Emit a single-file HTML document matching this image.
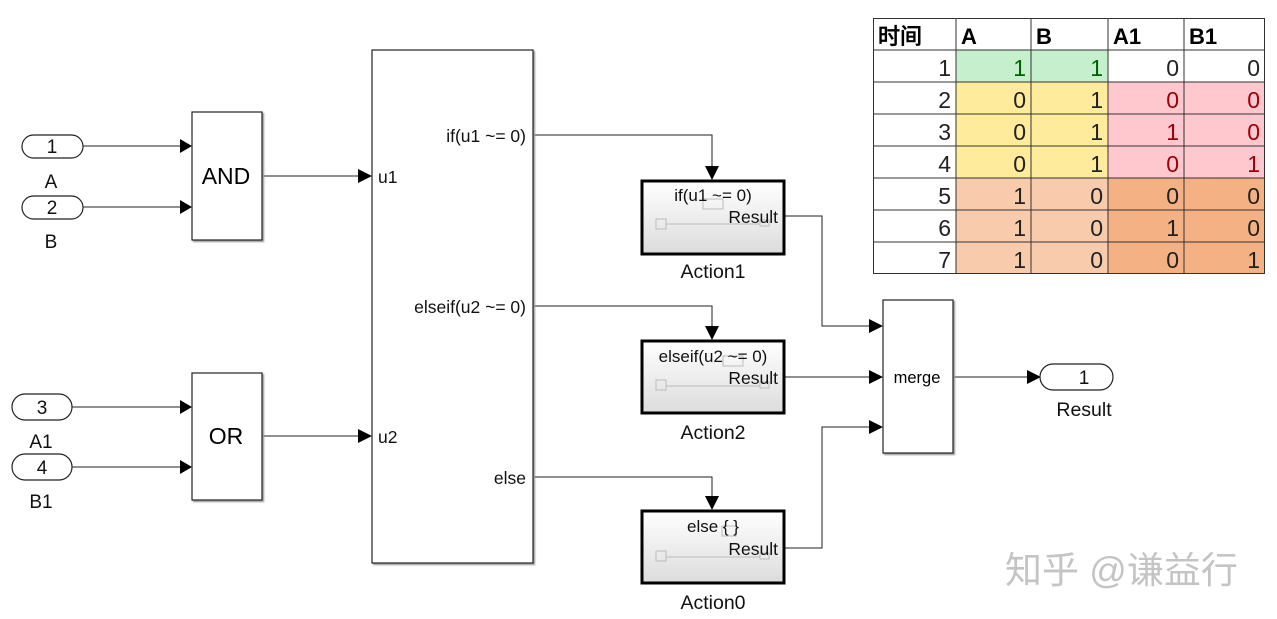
<!DOCTYPE html>
<html><head><meta charset="utf-8"><style>
html,body{margin:0;padding:0;background:#fff;}
svg{display:block;}
text{font-family:"Liberation Sans",Arial,sans-serif;}
.t{font-family:"Liberation Sans","Noto Sans CJK SC",sans-serif;}
</style></head><body>
<svg width="1277" height="619" viewBox="0 0 1277 619" xmlns="http://www.w3.org/2000/svg">
<defs>
<linearGradient id="g" x1="0" y1="0" x2="0" y2="1"><stop offset="0" stop-color="#ffffff"/><stop offset="1" stop-color="#dcdcdc"/></linearGradient>
<filter id="sh"><feDropShadow dx="1.5" dy="1.5" stdDeviation="0.8" flood-color="#999"/></filter>
</defs>
<g stroke="#222" stroke-width="1" fill="none">
<line x1="83" y1="146" x2="180" y2="146"/><line x1="83" y1="207" x2="180" y2="207"/>
<line x1="72" y1="407" x2="180" y2="407"/><line x1="72" y1="467" x2="180" y2="467"/>
<line x1="262" y1="176" x2="360" y2="176"/><line x1="262" y1="436" x2="360" y2="436"/>
<polyline points="533,135 712,135 712,168"/>
<polyline points="533,306 712,306 712,328"/>
<polyline points="533,477 712,477 712,498"/>
<polyline points="785,216 822,216 822,326 871,326"/>
<line x1="785" y1="377" x2="871" y2="377"/>
<polyline points="785,548 822,548 822,427 871,427"/>
<line x1="953" y1="377" x2="1028" y2="377"/>
</g>
<g fill="#000">
<polygon points="180,139 192,146 180,153"/><polygon points="180,200 192,207 180,214"/>
<polygon points="180,400 192,407 180,414"/><polygon points="180,460 192,467 180,474"/>
<polygon points="358,169 372,176 358,183"/><polygon points="358,429 372,436 358,443"/>
<polygon points="705,166 719,166 712,180"/><polygon points="705,326 719,326 712,340"/><polygon points="705,496 719,496 712,510"/>
<polygon points="869,319 883,326 869,333"/><polygon points="869,370 883,377 869,384"/><polygon points="869,420 883,427 869,434"/>
<polygon points="1027,370 1041,377 1027,384"/>
</g>
<g stroke="#222" stroke-width="1.2" fill="#fff">
<rect x="22" y="135" width="61" height="23" rx="11.5"/>
<rect x="22" y="196" width="61" height="23" rx="11.5"/>
<rect x="12" y="394" width="60" height="26" rx="13"/>
<rect x="12" y="454" width="60" height="26" rx="13"/>
<rect x="1040" y="364" width="73" height="26" rx="13"/>
</g>
<g font-size="19" text-anchor="middle" fill="#111">
<text x="52" y="153">1</text><text x="52" y="214">2</text>
<text x="42" y="414">3</text><text x="42" y="474">4</text>
<text x="1084" y="384">1</text>
<text x="51" y="188">A</text><text x="51" y="248">B</text>
<text x="41" y="448">A1</text><text x="41" y="508">B1</text>
<text x="1084" y="416" font-size="19.5">Result</text>
</g>
<g stroke="#222" stroke-width="1.2" fill="#fff" filter="url(#sh)">
<rect x="192" y="112" width="70" height="128"/>
<rect x="192" y="373" width="70" height="127"/>
<rect x="372" y="50" width="161" height="513"/>
<rect x="883" y="300" width="70" height="153"/>
</g>
<text x="226" y="184" font-size="23" text-anchor="middle">AND</text>
<text x="226" y="444" font-size="23" text-anchor="middle">OR</text>
<text x="917" y="383" font-size="16.5" text-anchor="middle">merge</text>
<g font-size="17.5" fill="#111">
<text x="378" y="183">u1</text><text x="378" y="443">u2</text>
<text x="526" y="142" text-anchor="end">if(u1 ~= 0)</text>
<text x="526" y="313" text-anchor="end">elseif(u2 ~= 0)</text>
<text x="526" y="484" text-anchor="end">else</text>
</g>
<g>
<rect x="642" y="181" width="142" height="73" fill="url(#g)" stroke="#000" stroke-width="3"/>
<rect x="642" y="341" width="142" height="72" fill="url(#g)" stroke="#000" stroke-width="3"/>
<rect x="642" y="511" width="142" height="72" fill="url(#g)" stroke="#000" stroke-width="3"/>
</g>
<g stroke="#bbb" stroke-width="1" fill="none">
<rect x="656" y="219" width="10" height="10"/><line x1="666" y1="224" x2="760" y2="224"/><rect x="760" y="220" width="9" height="6"/><rect x="703" y="199" width="20" height="10"/>
<rect x="656" y="380" width="10" height="10"/><line x1="666" y1="386" x2="760" y2="386"/><rect x="760" y="382" width="9" height="6"/><rect x="723" y="356" width="20" height="10"/>
<rect x="656" y="551" width="10" height="10"/><line x1="666" y1="557" x2="760" y2="557"/><rect x="760" y="553" width="9" height="6"/><rect x="722" y="526" width="14" height="10"/>
</g>
<g font-size="17" fill="#111">
<text x="713" y="201" text-anchor="middle">if(u1 ~= 0)</text>
<text x="713" y="362" text-anchor="middle">elseif(u2 ~= 0)</text>
<text x="713" y="532" text-anchor="middle">else { }</text>
<text x="778" y="223" text-anchor="end" font-size="17.5">Result</text>
<text x="778" y="384" text-anchor="end" font-size="17.5">Result</text>
<text x="778" y="555" text-anchor="end" font-size="17.5">Result</text>
</g>
<g font-size="19.5" text-anchor="middle" fill="#111">
<text x="713" y="278">Action1</text><text x="713" y="439">Action2</text><text x="713" y="609">Action0</text>
</g>
<g stroke="none">
<rect x="956" y="50" width="152" height="32" fill="#c6efce"/>
<rect x="956" y="82" width="152" height="96" fill="#ffeb9c"/>
<rect x="1108" y="82" width="157" height="96" fill="#ffc7ce"/>
<rect x="956" y="178" width="152" height="96" fill="#f8cbad"/>
<rect x="1108" y="178" width="157" height="96" fill="#f4b183"/>
</g>
<g stroke="#333" stroke-width="1">
<rect x="873.5" y="18.5" width="391" height="255" fill="none"/>
<line x1="956" y1="18" x2="956" y2="274"/><line x1="1031" y1="18" x2="1031" y2="274"/><line x1="1108" y1="18" x2="1108" y2="274"/><line x1="1184" y1="18" x2="1184" y2="274"/>
<line x1="873" y1="50" x2="1265" y2="50"/><line x1="873" y1="82" x2="1265" y2="82"/><line x1="873" y1="114" x2="1265" y2="114"/><line x1="873" y1="146" x2="1265" y2="146"/><line x1="873" y1="178" x2="1265" y2="178"/><line x1="873" y1="210" x2="1265" y2="210"/><line x1="873" y1="242" x2="1265" y2="242"/>
</g>
<g class="t" font-size="22" font-weight="bold" fill="#000">
<text x="878" y="44">时间</text><text x="961" y="44">A</text><text x="1036" y="44">B</text><text x="1113" y="44">A1</text><text x="1189" y="44">B1</text>
</g>
<g font-size="23" text-anchor="end" fill="#222">
<text x="951" y="76">1</text><text x="1026" y="76" fill="#006100">1</text><text x="1103" y="76" fill="#006100">1</text><text x="1179" y="76">0</text><text x="1260" y="76">0</text>
<text x="951" y="108">2</text><text x="1026" y="108">0</text><text x="1103" y="108">1</text><text x="1179" y="108" fill="#9c0006">0</text><text x="1260" y="108" fill="#9c0006">0</text>
<text x="951" y="140">3</text><text x="1026" y="140">0</text><text x="1103" y="140">1</text><text x="1179" y="140" fill="#9c0006">1</text><text x="1260" y="140" fill="#9c0006">0</text>
<text x="951" y="172">4</text><text x="1026" y="172">0</text><text x="1103" y="172">1</text><text x="1179" y="172" fill="#9c0006">0</text><text x="1260" y="172" fill="#9c0006">1</text>
<text x="951" y="204">5</text><text x="1026" y="204">1</text><text x="1103" y="204">0</text><text x="1179" y="204">0</text><text x="1260" y="204">0</text>
<text x="951" y="236">6</text><text x="1026" y="236">1</text><text x="1103" y="236">0</text><text x="1179" y="236">1</text><text x="1260" y="236">0</text>
<text x="951" y="268">7</text><text x="1026" y="268">1</text><text x="1103" y="268">0</text><text x="1179" y="268">0</text><text x="1260" y="268">1</text>
</g>
<text class="t" x="1005" y="583" font-size="37" fill="#c4c4c4">知乎 @谦益行</text>
</svg>
</body></html>
